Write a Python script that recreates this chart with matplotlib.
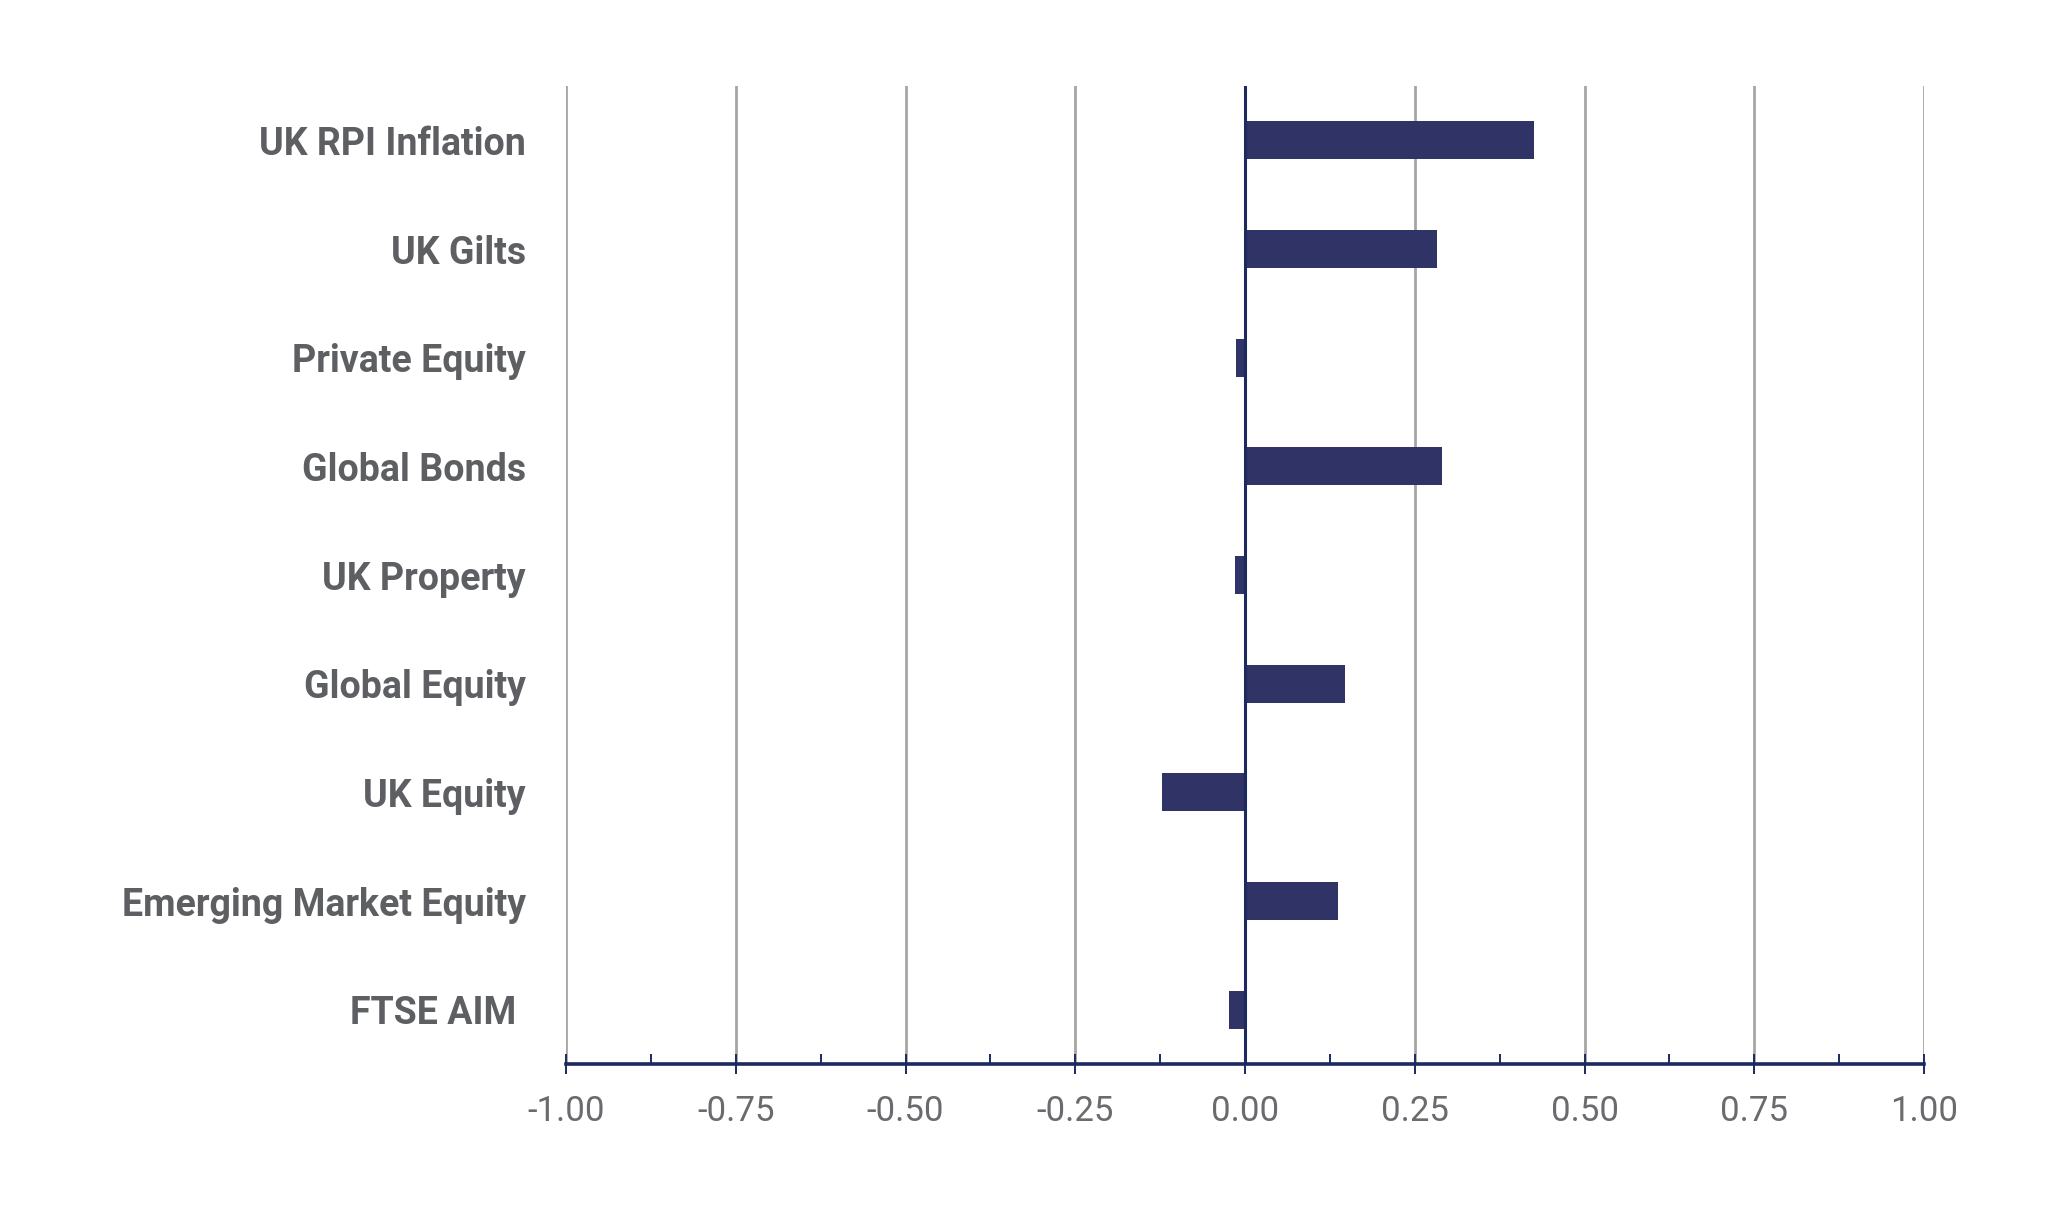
import matplotlib
matplotlib.use("Agg")
import matplotlib.pyplot as plt
from matplotlib.ticker import MultipleLocator, FormatStrFormatter

# correlation of each asset class (top to bottom as drawn)
categories = [
    "UK RPI Inflation", "UK Gilts", "Private Equity", "Global Bonds",
    "UK Property", "Global Equity", "UK Equity", "Emerging Market Equity",
    "FTSE AIM ",
]
values = [0.426, 0.283, -0.014, 0.290, -0.015, 0.147, -0.123, 0.137, -0.024]

NAVY = "#1c2a5e"
BAR = "#303366"
GRID = "#a6a6a6"
LABEL = "#5d5f63"
TICK = "#6a6b6f"

fig = plt.figure(figsize=(20.48, 12.12), dpi=100)
ax = fig.add_axes([0.2764, 0.1221, 0.9395 - 0.2764, 0.929 - 0.1221])

ypos = list(range(len(categories)))
ax.barh(ypos, values, height=0.35, color=BAR, zorder=3)
ax.axvline(0, color=NAVY, lw=2.2, zorder=4)

ax.set_xlim(-1, 1)
ax.set_ylim(len(categories) - 0.5, -0.5)
ax.xaxis.set_major_locator(MultipleLocator(0.25))
ax.xaxis.set_minor_locator(MultipleLocator(0.125))
ax.xaxis.set_major_formatter(FormatStrFormatter("%.2f"))
ax.grid(axis="x", which="major", color=GRID, lw=2, zorder=1)

for s in ("top", "left", "right"):
    ax.spines[s].set_visible(False)
ax.spines["bottom"].set_color(NAVY)
ax.spines["bottom"].set_linewidth(2.6)

ax.tick_params(axis="x", which="major", direction="inout", length=15,
               width=1.4, color=NAVY, pad=15, labelsize=25, labelcolor=TICK)
ax.tick_params(axis="x", which="minor", direction="in", length=7,
               width=1.4, color=NAVY)
ax.tick_params(axis="y", length=0, pad=29, labelsize=27, labelcolor=LABEL)

ax.set_yticks(ypos)
ax.set_yticklabels(categories, fontfamily="Roboto", fontweight="bold")
for t in ax.get_xticklabels():
    t.set_fontfamily("Roboto")
    t.set_fontweight("normal")

fig.savefig("out.png", dpi=100, facecolor="white")
